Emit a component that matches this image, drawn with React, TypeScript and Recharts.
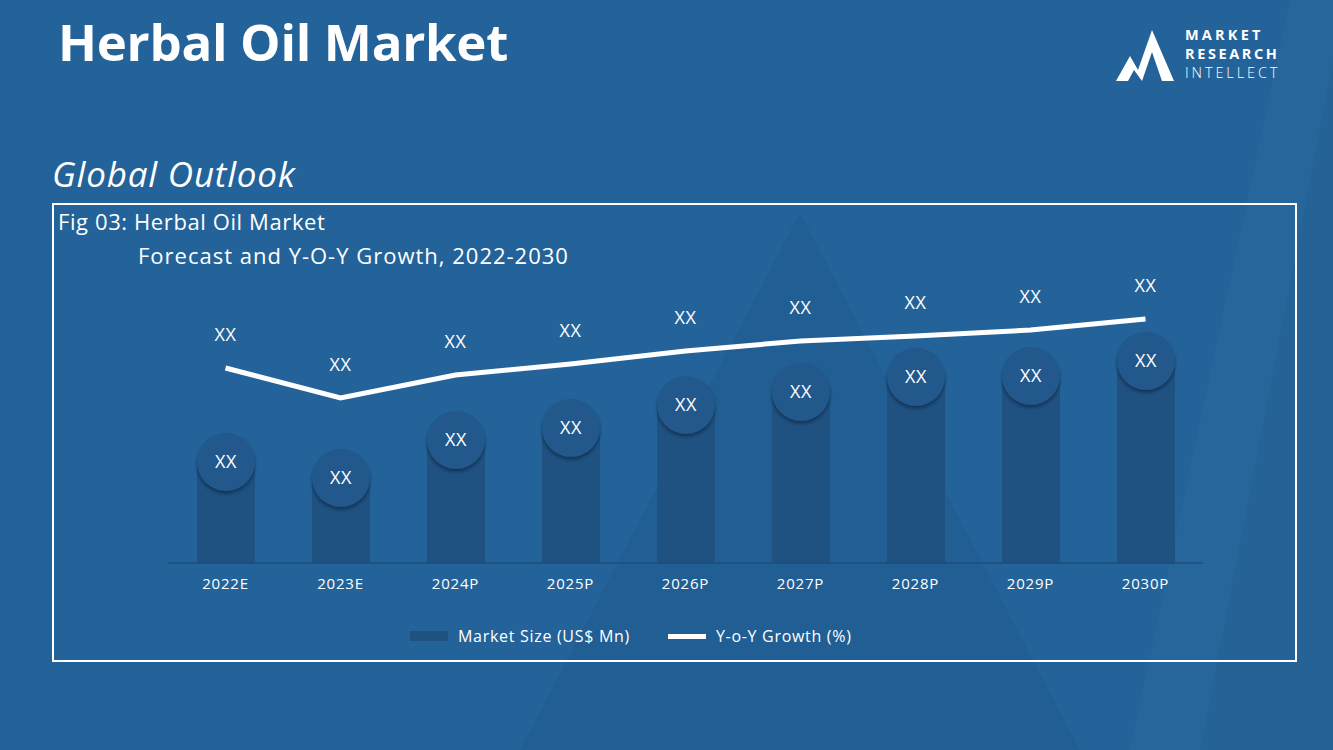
import React from "react";
import {
  ComposedChart,
  Bar,
  Line,
  XAxis,
  YAxis,
  LabelList,
} from "recharts";

const years = ["2022E", "2023E", "2024P", "2025P", "2026P", "2027P", "2028P", "2029P", "2030P"];
const marketSize = [10.1, 8.5, 12.3, 13.5, 15.8, 17.1, 18.6, 18.7, 20.2];
const yoyGrowth = [19.5, 16.5, 18.8, 19.9, 21.2, 22.2, 22.7, 23.3, 24.4];
const seriesNames = ["Market Size (US$ Mn)", "Y-o-Y Growth (%)"];

const BG = "#23639A";
const BAR = "#1F5181";
const DOT = "#20598B";
const FONT = "'Open Sans', 'DejaVu Sans', sans-serif";

const data = years.map((y, i) => ({
  year: y,
  size: marketSize[i],
  growth: yoyGrowth[i],
}));

// circle badge sitting on top of each bar
function BarBadge(props: any) {
  const { x, y, width } = props;
  const cx = x + width / 2;
  return (
    <g>
      <circle cx={cx} cy={y} r={29} fill={DOT} filter="url(#badgeShadow)" />
      <text
        x={cx}
        y={y}
        dy="0.35em"
        textAnchor="middle"
        fill="#fff"
        fontSize={18}
        fontWeight={500}
        fontFamily={FONT}
        letterSpacing={0.5}
      >
        XX
      </text>
    </g>
  );
}

function Logo() {
  return (
    <div style={{ position: "absolute", left: 1116, top: 26, width: 190, height: 62 }}>
      <svg width={70} height={56} style={{ position: "absolute", left: 0, top: 0 }}>
        <polygon points="0,55 14,30 22,44 36,4 58,55 46,55 36,26 26,55 18,44 12,55" fill="#fff" />
      </svg>
      <div
        style={{
          position: "absolute",
          left: 69,
          top: -1,
          color: "#fff",
          fontFamily: FONT,
          fontSize: 14.5,
          lineHeight: "19px",
          letterSpacing: 3.2,
        }}
      >
        <div style={{ fontWeight: 700 }}>MARKET</div>
        <div style={{ fontWeight: 700, letterSpacing: 2.6 }}>RESEARCH</div>
        <div style={{ fontWeight: 300, letterSpacing: 2.9 }}>INTELLECT</div>
      </div>
    </div>
  );
}

export default function App() {
  return (
    <div
      style={{
        position: "absolute",
        left: 0,
        top: 0,
        width: 1333,
        height: 750,
        overflow: "hidden",
        background: BG,
        fontFamily: FONT,
      }}
    >
      {/* background decoration + shared filter */}
      <svg width={1333} height={750} style={{ position: "absolute", left: 0, top: 0 }}>
        <defs>
          <filter id="badgeShadow" x="-30%" y="-30%" width="160%" height="170%">
            <feDropShadow dx="0" dy="2.5" stdDeviation="1.5" floodColor="#0b2a45" floodOpacity="0.75" />
          </filter>
        </defs>
        <polygon points="800,212 520,750 1080,750" fill="#000" opacity={0.045} />
        <polygon points="1290,0 1333,0 1333,750 1130,750" fill="#fff" opacity={0.02} />
        <polygon points="1333,60 1333,750 1200,750" fill="#000" opacity={0.03} />
      </svg>

      <div
        style={{
          position: "absolute",
          left: 58,
          top: 6,
          color: "#fff",
          fontSize: 51,
          fontWeight: 700,
          letterSpacing: -0.3,
        }}
      >
        Herbal Oil Market
      </div>
      <Logo />
      <div
        style={{
          position: "absolute",
          left: 52,
          top: 150,
          color: "#fff",
          fontSize: 35,
          fontStyle: "italic",
          fontWeight: 400,
          letterSpacing: 0.8,
        }}
      >
        Global Outlook
      </div>

      <div
        style={{
          position: "absolute",
          left: 52,
          top: 203,
          width: 1241,
          height: 455,
          border: "2px solid #fff",
        }}
      />
      <div style={{ position: "absolute", left: 58, top: 206, color: "#fff", fontSize: 22, letterSpacing: 0.6 }}>
        Fig 03: Herbal Oil Market
      </div>
      <div style={{ position: "absolute", left: 138, top: 240, color: "#fff", fontSize: 22, letterSpacing: 1 }}>
        Forecast and Y-O-Y Growth, 2022-2030
      </div>

      <div style={{ position: "absolute", left: 0, top: 0 }}>
        <ComposedChart
          width={1333}
          height={750}
          data={data}
          margin={{ top: 223, right: 130, bottom: 157, left: 168 }}
        >
          <XAxis
            dataKey="year"
            height={30}
            tickLine={false}
            axisLine={{ stroke: "#1C4E7C", strokeWidth: 1.5 }}
            tickMargin={9}
            tick={{ fill: "#fff", fontSize: 15, fontWeight: 500, fontFamily: FONT, letterSpacing: 0.8 }}
            interval={0}
          />
          <YAxis yAxisId="size" hide domain={[0, 34]} />
          <YAxis yAxisId="growth" hide orientation="right" domain={[0, 34]} />
          <Bar
            yAxisId="size"
            dataKey="size"
            name={seriesNames[0]}
            fill={BAR}
            barSize={58}
            isAnimationActive={false}
          >
            <LabelList dataKey="size" content={BarBadge} />
          </Bar>
          <Line
            yAxisId="growth"
            dataKey="growth"
            name={seriesNames[1]}
            type="linear"
            stroke="#fff"
            strokeWidth={5}
            dot={false}
            activeDot={false}
            isAnimationActive={false}
          >
            <LabelList
              dataKey="growth"
              position="top"
              offset={27}
              formatter={() => "XX"}
              fill="#fff"
              fontSize={18}
              fontWeight={500}
              fontFamily={FONT}
              letterSpacing={0.5}
            />
          </Line>
        </ComposedChart>
      </div>

      {/* legend */}
      <div
        style={{
          position: "absolute",
          left: 410,
          top: 625,
          display: "flex",
          alignItems: "center",
          color: "#fff",
          fontSize: 16,
          letterSpacing: 0.7,
          height: 22,
        }}
      >
        <span style={{ width: 38, height: 10, background: BAR, display: "inline-block" }} />
        <span style={{ marginLeft: 10 }}>{seriesNames[0]}</span>
        <span style={{ width: 38, height: 5, background: "#fff", display: "inline-block", marginLeft: 38 }} />
        <span style={{ marginLeft: 10 }}>{seriesNames[1]}</span>
      </div>
    </div>
  );
}
